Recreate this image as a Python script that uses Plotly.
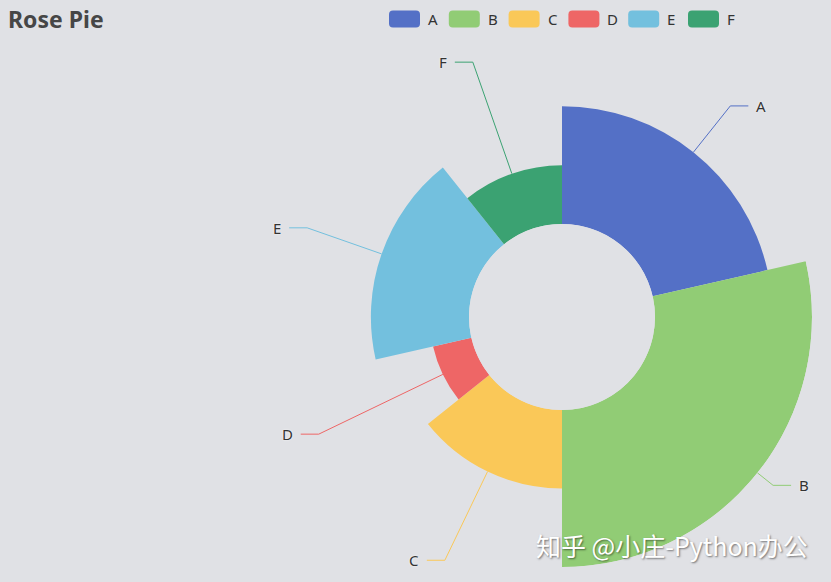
import math
import plotly.graph_objects as go

categories = ["A", "B", "C", "D", "E", "F"]
values = [30, 40, 20, 10, 25, 15]
colors = ["#5470c6", "#91cc75", "#fac858", "#ee6666", "#73c0de", "#3ba272"]

W, H = 831, 582
cx, cy = 562, 317          # chart centre (px)
r_out_px, r_in_px = 250, 93
lead1_px, lead2_px, label_gap = 20, 18, 6

total = sum(values)
rmax = max(values)
hole = r_in_px / r_out_px

widths = [v / total * 360 for v in values]
centers = []
acc = 0.0
for w in widths:
    centers.append(acc + w / 2)
    acc += w


def px_of_value(v):
    return r_in_px + (r_out_px - r_in_px) * v / rmax


fig = go.Figure()
for cat, v, c, th, w in zip(categories, values, colors, centers, widths):
    fig.add_trace(go.Barpolar(
        r=[v], theta=[th], width=[w], base=0, name=cat,
        marker=dict(color=c, line=dict(width=0)),
        hoverinfo="name+r", showlegend=False,
    ))

# leader lines + labels on a full-page pixel overlay
for cat, v, c, th in zip(categories, values, colors, centers):
    rad = math.radians(th)
    d0 = px_of_value(v)
    d1 = r_out_px + lead1_px
    x0, y0 = cx + d0 * math.sin(rad), cy - d0 * math.cos(rad)
    x1, y1 = cx + d1 * math.sin(rad), cy - d1 * math.cos(rad)
    side = 1 if math.sin(rad) >= 0 else -1
    x2, y2 = x1 + side * lead2_px, y1
    fig.add_trace(go.Scatter(
        x=[x0, x1, x2], y=[y0, y1, y2], mode="lines",
        line=dict(color=c, width=1), xaxis="x", yaxis="y",
        showlegend=False, hoverinfo="skip",
    ))
    fig.add_annotation(
        x=x2 + side * label_gap, y=y2, xref="x", yref="y", text=cat,
        showarrow=False, xanchor="left" if side > 0 else "right", yanchor="middle",
        font=dict(size=15, color="#333333", family="Noto Sans",
                  shadow="0px 0px 2px white"),
    )

# legend (rounded swatches)
leg_x0, leg_y, leg_step, sw_w, sw_h, rr = 389, 19, 59.8, 31, 17, 4
for i, (cat, c) in enumerate(zip(categories, colors)):
    xl = leg_x0 + i * leg_step
    xr = xl + sw_w
    yt = leg_y - sw_h / 2
    yb = leg_y + sw_h / 2
    path = (f"M{xl+rr},{yt} L{xr-rr},{yt} Q{xr},{yt} {xr},{yt+rr} "
            f"L{xr},{yb-rr} Q{xr},{yb} {xr-rr},{yb} L{xl+rr},{yb} "
            f"Q{xl},{yb} {xl},{yb-rr} L{xl},{yt+rr} Q{xl},{yt} {xl+rr},{yt} Z")
    fig.add_shape(type="path", path=path, xref="x", yref="y",
                  fillcolor=c, line=dict(width=0))
    fig.add_annotation(
        x=xr + 6, y=leg_y, xref="x", yref="y", text=cat, showarrow=False,
        xanchor="left", yanchor="middle",
        font=dict(size=15, color="#333333", family="Noto Sans"),
    )

fig.update_layout(
    width=W, height=H,
    margin=dict(l=0, r=0, t=0, b=0),
    paper_bgcolor="#e0e1e5",
    plot_bgcolor="rgba(0,0,0,0)",
    xaxis=dict(range=[0, W], domain=[0, 1], visible=False, fixedrange=True),
    yaxis=dict(range=[H, 0], domain=[0, 1], visible=False, fixedrange=True),
    polar=dict(
        domain=dict(x=[(cx - r_out_px) / W, (cx + r_out_px) / W],
                    y=[(H - cy - r_out_px) / H, (H - cy + r_out_px) / H]),
        bgcolor="rgba(0,0,0,0)",
        hole=hole,
        radialaxis=dict(range=[0, rmax], visible=False),
        angularaxis=dict(rotation=90, direction="clockwise", visible=False),
    ),
    showlegend=False,
)
fig.add_annotation(
    text="<b>Rose Pie</b>", x=6, y=19, xref="x", yref="y",
    xanchor="left", yanchor="middle", showarrow=False,
    font=dict(size=23, color="#464646", family="Noto Sans"),
)
fig.add_annotation(
    text="知乎 @小庄-Python办公", x=810, y=545, xref="x", yref="y",
    xanchor="right", yanchor="middle", showarrow=False,
    font=dict(size=25, color="white", family="Noto Sans CJK SC",
              shadow="1px 1px 2px rgba(0,0,0,0.5)"),
)

fig.write_html("out.html", config={"displayModeBar": False},
               post_script="document.body.style.margin='0';")
